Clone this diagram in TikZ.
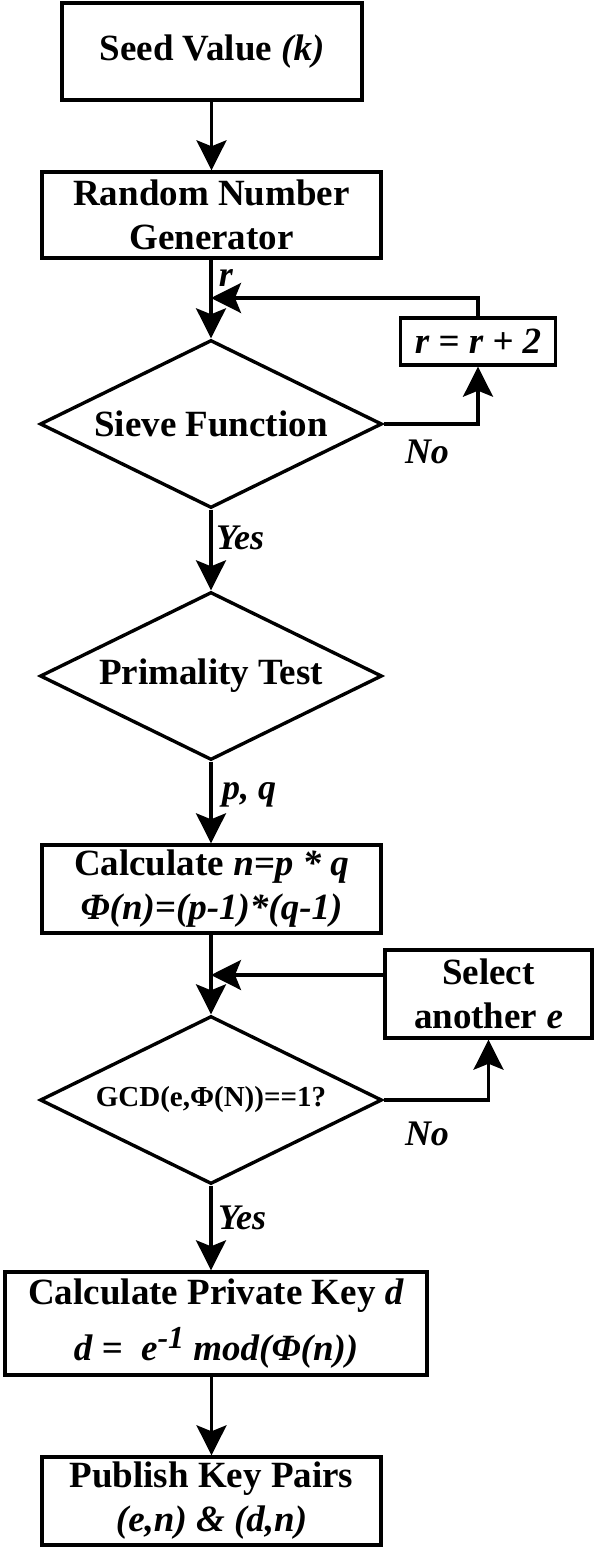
\documentclass[tikz,border=0pt]{standalone}
\usepackage{fontspec}
\setmainfont{Liberation Serif}
\usetikzlibrary{shapes.geometric,arrows.meta,calc}
\begin{document}
\begin{tikzpicture}[x=1pt,y=-1pt,
  every node/.style={font=\bfseries\fontsize{37}{44}\selectfont},
  box/.style={draw,line width=3.4pt,rectangle,inner sep=0pt,align=center},
  dia/.style={draw,line width=3.4pt,diamond,shape aspect=2,inner sep=0pt,minimum width=342pt,minimum height=168pt,align=center},
  arr/.style={line width=3.2pt,-{Stealth[length=30pt,width=30pt,inset=6pt]}},
  lbl/.style={font=\bfseries\itshape\fontsize{36}{40}\selectfont,inner sep=0pt}
]
\useasboundingbox (0,0) rectangle (594,1549);
\node[box,minimum width=300pt,minimum height=97pt] (seed) at (212,51.5) {Seed Value \textit{(k)}};
\node[box,minimum width=339pt,minimum height=86pt] (rng) at (211.5,215) {Random Number\\Generator};
\node[dia] (sieve) at (211,424) {Sieve Function};
\node[box,minimum width=155pt,minimum height=47pt] (rr) at (478,341.5) {\textit{r = r + 2}};
\node[dia] (prim) at (211,676) {Primality Test};
\node[box,minimum width=339pt,minimum height=88pt] (calc) at (211.5,889) {Calculate \textit{n=p * q}\\\textit{Φ(n)=(p-1)*(q-1)}};
\node[box,minimum width=207pt,minimum height=88pt] (sel) at (488.5,994) {Select\\another \textit{e}};
\node[dia,font=\bfseries\fontsize{29}{34}\selectfont] (gcd) at (211,1100) {GCD(e,Φ(N))==1?};
\node[box,minimum width=422pt,minimum height=103pt] (priv) at (216,1323.5) {Calculate Private Key \textit{d}\\[12pt]\textit{d =~ e}\raisebox{12pt}{\fontsize{32}{32}\selectfont\textit{-1}} \textit{mod(Φ(n))}};
\node[box,minimum width=339pt,minimum height=88pt] (pub) at (211.5,1501) {Publish Key Pairs\\\textit{(e,n) \& (d,n)}};

\coordinate (j1) at (211,298);
\coordinate (j2) at (211,975);

\draw[arr] (seed.south -| rng.north) -- (rng.north);
\draw[arr] (rng.south -| sieve.north) -- (sieve.north);
\draw[arr] (sieve.east) -| (rr.south);
\draw[arr] (rr.north) |- (j1);
\draw[arr] (sieve.south) -- (prim.north);
\draw[arr] (prim.south) -- (prim.south |- calc.north);
\draw[arr] (calc.south -| gcd.north) -- (gcd.north);
\draw[arr] (sel.west |- j2) -- (j2);
\draw[arr] (gcd.east) -| (sel.south);
\draw[arr] (gcd.south) -- (gcd.south |- priv.north);
\draw[arr] (priv.south -| pub.north) -- (pub.north);

\node[lbl] (lr) at (226,278) {r};
\node[lbl] (lno1) at (427,452) {No};
\node[lbl] (lyes1) at (240,538) {Yes};
\node[lbl] (lpq) at (249,795) {p, q};
\node[lbl] (lno2) at (427,1134) {No};
\node[lbl] (lyes2) at (242,1218) {Yes};
\end{tikzpicture}
\end{document}
